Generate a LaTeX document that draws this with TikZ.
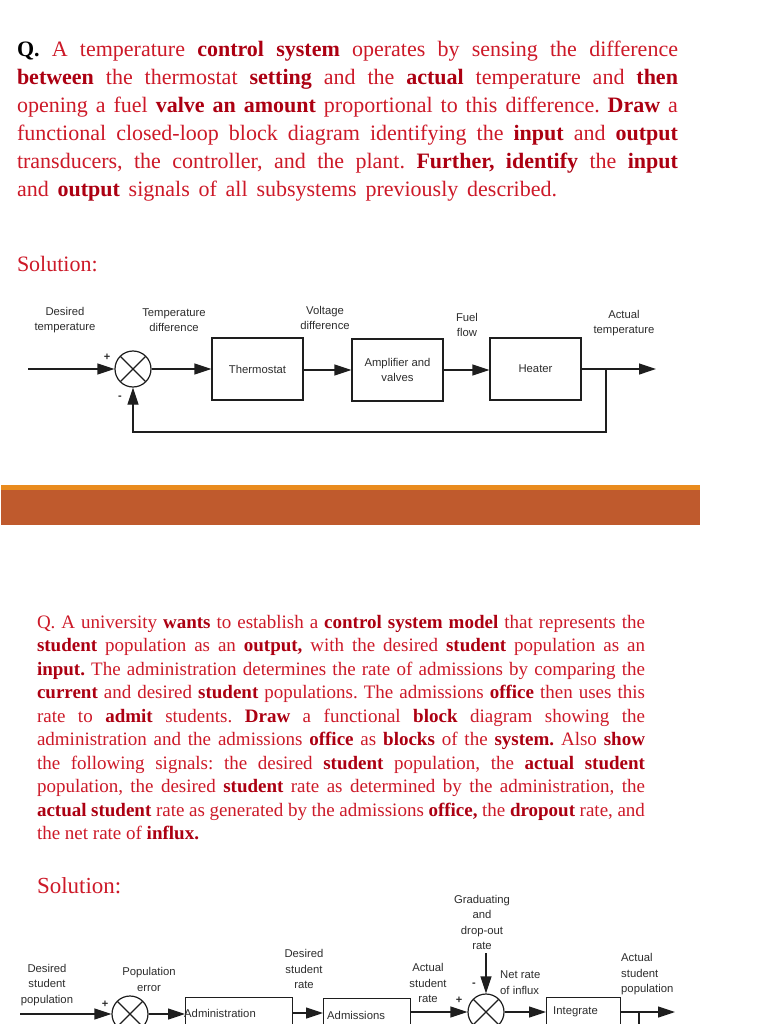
\documentclass[tikz,border=0pt]{standalone}
\usepackage{fontspec}
\setmainfont{Liberation Serif}
\newfontfamily\lblfont{Liberation Sans}
\usetikzlibrary{arrows.meta}
\definecolor{qred}{RGB}{205,25,40}
\definecolor{qredb}{RGB}{172,0,18}
\definecolor{lblgray}{RGB}{45,45,45}
\definecolor{linecol}{RGB}{30,30,30}
\definecolor{barorange}{RGB}{233,139,30}
\definecolor{barrust}{RGB}{191,90,45}
\newcommand{\hb}[1]{{\bfseries\color{qredb}#1}}
\newcommand{\qasize}{\fontsize{22}{28}\selectfont}
\newcommand{\qbsize}{\fontsize{19}{23.5}\selectfont}
\newcommand{\lblsize}{\lblfont\fontsize{11.3}{15.5}\selectfont}
\newcommand{\jl}[2]{\makebox[#1][s]{#2}}
\frenchspacing
\begin{document}
\begin{tikzpicture}[x=1pt,y=-1pt,
  qone/.style={anchor=base west, inner sep=0pt, outer sep=0pt, text=qred, font=\qasize},
  qtwo/.style={anchor=base west, inner sep=0pt, outer sep=0pt, text=qred, font=\qbsize},
  lbl/.style={font=\lblsize, text=lblgray, align=center, inner sep=0pt},
  lbll/.style={font=\lblsize, text=lblgray, align=left, inner sep=0pt},
  sign/.style={font=\lblfont\bfseries\fontsize{11}{12}\selectfont, text=lblgray, inner sep=0pt},
  blk/.style={draw=linecol, line width=1.2pt, minimum width=91pt, minimum height=62pt,
    font=\lblsize, text=lblgray, align=center, inner sep=0pt},
  openblk/.style={draw=linecol, line width=1.2pt, minimum height=80pt, inner sep=0pt, anchor=north west},
  sumj/.style={circle, draw=linecol, line width=1.2pt, minimum size=36pt, inner sep=0pt,
    path picture={\draw[linecol, line width=1.2pt]
      (path picture bounding box.north west) -- (path picture bounding box.south east)
      (path picture bounding box.north east) -- (path picture bounding box.south west);}},
  arr/.style={draw=linecol, line width=1.2pt, -{Triangle[length=17pt,width=11pt]}},
  ln/.style={draw=linecol, line width=1.2pt}]
\useasboundingbox (0,0) rectangle (768,1024);
\fill[white] (0,0) rectangle (768,1024);
\begin{scope}
\clip (0,0) rectangle (768,1024);

% ---------- Question 1 ----------
\node[qone] (q1a) at (17,57) {\jl{661pt}{{\color{black}\bfseries Q.} A temperature \hb{control system} operates by sensing the difference}};
\node[qone] (q1b) at (17,85) {\jl{661pt}{\hb{between} the thermostat \hb{setting} and the \hb{actual} temperature and \hb{then}}};
\node[qone] (q1c) at (17,113) {\jl{661pt}{opening a fuel \hb{valve an amount} proportional to this difference. \hb{Draw} a}};
\node[qone] (q1d) at (17,141) {\jl{661pt}{functional closed-loop block diagram identifying the \hb{input} and \hb{output}}};
\node[qone] (q1e) at (17,169) {\jl{661pt}{transducers, the controller, and the plant. \hb{Further, identify} the \hb{input}}};
\node[qone] (q1f) at (17,197) {\jl{540pt}{and \hb{output} signals of all subsystems previously described.}};

\node[qone] (sol1) at (17,271) {Solution:};

% ---------- Diagram 1 ----------
\node[lbl] (l1) at (65,320) {Desired\\temperature};
\node[lbl] (l2) at (174,320) {Temperature\\difference};
\node[lbl] (l3) at (325,318) {Voltage\\difference};
\node[lbl] (l4) at (467,325) {Fuel\\flow};
\node[lbl] (l5) at (624,323) {Actual\\temperature};
\node[sign] (p1) at (107,357) {+};
\node[sign] (m1) at (120,398) {-};

\coordinate (in1) at (28,369);
\node[sumj] (s1) at (133,369) {};
\node[blk] (th) at (257.5,369) {Thermostat};
\node[blk] (amp) at (397.5,370) {Amplifier and\\valves};
\node[blk] (ht) at (535.5,369) {Heater};
\coordinate (br1) at (606,369);
\coordinate (out1) at (656,369);
\coordinate (fb1) at (606,432);

\draw[arr] (in1) -- (s1);
\draw[arr] (s1) -- (th);
\draw[arr] (th.east |- amp) -- (amp);
\draw[arr] (amp) -- (ht.west |- amp);
\draw[arr] (ht) -- (out1);
\draw[arr] (br1) -- (fb1) -| (s1.south);

% ---------- Divider bar ----------
\fill[barrust] (0.5,489) rectangle (700,524.5);
\fill[barorange] (0.5,484.5) rectangle (700,489.5);

% ---------- Question 2 ----------
\node[qtwo] (q2a) at (37,628) {\jl{608pt}{Q. A university \hb{wants} to establish a \hb{control system model} that represents the}};
\node[qtwo] (q2b) at (37,651.5) {\jl{608pt}{\hb{student} population as an \hb{output,} with the desired \hb{student} population as an}};
\node[qtwo] (q2c) at (37,675) {\jl{608pt}{\hb{input.} The administration determines the rate of admissions by comparing the}};
\node[qtwo] (q2d) at (37,698.5) {\jl{608pt}{\hb{current} and desired \hb{student} populations. The admissions \hb{office} then uses this}};
\node[qtwo] (q2e) at (37,722) {\jl{608pt}{rate to \hb{admit} students. \hb{Draw} a functional \hb{block} diagram showing the}};
\node[qtwo] (q2f) at (37,745.5) {\jl{608pt}{administration and the admissions \hb{office} as \hb{blocks} of the \hb{system.} Also \hb{show}}};
\node[qtwo] (q2g) at (37,769) {\jl{608pt}{the following signals: the desired \hb{student} population, the \hb{actual student}}};
\node[qtwo] (q2h) at (37,792.5) {\jl{608pt}{population, the desired \hb{student} rate as determined by the administration, the}};
\node[qtwo] (q2i) at (37,816) {\jl{608pt}{\hb{actual student} rate as generated by the admissions \hb{office,} the \hb{dropout} rate, and}};
\node[qtwo] (q2j) at (37,839.5) {\jl{162pt}{the net rate of \hb{influx.}}};

\node[qone, font=\fontsize{23}{28}\selectfont] (sol2) at (37,893) {Solution:};

% ---------- Diagram 2 ----------
\node[lbl] (k1) at (47,985) {Desired\\student\\population};
\node[lbl] (k2) at (149,979.5) {Population\\error};
\node[lbl] (k3) at (304,969) {Desired\\student\\rate};
\node[lbl] (k4) at (428,983) {Actual\\student\\rate};
\node[lbl] (k5) at (482,922.5) {Graduating\\and\\drop-out\\rate};
\node[lbll, anchor=west] (k6) at (500,982.5) {Net rate\\of influx};
\node[lbll, anchor=west] (k7) at (621,974.5) {Actual\\student\\population};
\node[sign] (p2) at (105,1004) {+};
\node[sign] (p3) at (459,1000) {+};
\node[sign] (m3) at (474,985) {-};

\coordinate (in2) at (20,1014);
\node[sumj] (s2) at (130,1014) {};
\node[openblk, minimum width=107pt] (adm) at (185,997) {};
\node[lbll, anchor=west] (admt) at (184,1013) {Administration};
\node[openblk, minimum width=87pt] (ads) at (323,998) {};
\node[lbll, anchor=west] (adst) at (327,1015) {Admissions};
\node[sumj] (s3) at (486,1012) {};
\coordinate (dr) at (486,953);
\node[openblk, minimum width=74pt] (int) at (546,997) {};
\node[lbll, anchor=west] (intt) at (553,1012) {Integrate};
\coordinate (out2) at (675,1012);
\coordinate (br2) at (639,1012);
\coordinate (br2d) at (639,1040);

\draw[arr] (in2) -- (s2);
\draw[arr] (s2) -- (s2 -| adm.west);
\draw[arr] (adm.east |- 0,1013) -- (ads.west |- 0,1013);
\draw[arr] (ads.east |- s3) -- (s3);
\draw[arr] (dr) -- (s3);
\draw[arr] (s3) -- (s3 -| int.west);
\draw[arr] (int.east |- s3) -- (out2);
\draw[ln] (br2) -- (br2d);
\end{scope}
\end{tikzpicture}
\end{document}
